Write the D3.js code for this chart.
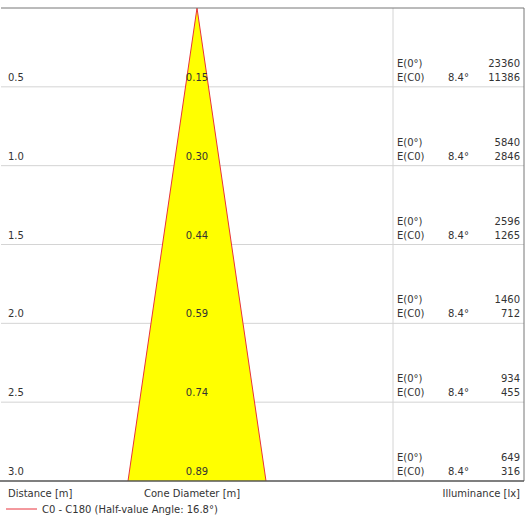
<!DOCTYPE html>
<meta charset="utf-8">
<script src="https://d3js.org/d3.v7.min.js"></script>
<style>
body { margin: 0; background: #fff; }
text { font-family: "DejaVu Sans", sans-serif; font-size: 10px; fill: #333; }
</style>
<div id="chart"></div>
<script>
  // Data
  var distances = [0.5, 1.0, 1.5, 2.0, 2.5, 3.0];
  var diameters = [0.15, 0.30, 0.44, 0.59, 0.74, 0.89];
  var eCenter = [23360, 5840, 2596, 1460, 934, 649];
  var eC0 = [11386, 2846, 1265, 712, 455, 316];
  var halfAngle = "8.4°";

  var W = 526, H = 526;
  var mLeft = 1, mRight = 524, mTop = 8, mBottom = 481, split = 393;

  var svg = d3.select("#chart").append("svg")
              .attr("width", W).attr("height", H);

  // Scales
  var y = d3.scaleLinear().domain([0, 3]).range([mTop, mBottom]);
  var x = d3.scaleLinear().domain([-0.445, 0.445]).range([128, 266]);

  // Gridlines
  svg.selectAll(".grid")
     .data(distances.slice(0, -1))
     .enter().append("line")
     .attr("x1", mLeft).attr("x2", mRight)
     .attr("y1", function (d) { return y(d); })
     .attr("y2", function (d) { return y(d); })
     .attr("stroke", "#d4d4d4");

  svg.append("line")
     .attr("x1", split).attr("x2", split)
     .attr("y1", mTop).attr("y2", mBottom)
     .attr("stroke", "#d4d4d4");

  // Cone
  var last = distances.length - 1;
  var r = diameters[last] / 2;
  svg.append("path")
     .attr("d", "M" + x(0) + "," + y(0) +
                "L" + x(-r) + "," + y(distances[last]) +
                "L" + x(r) + "," + y(distances[last]) + "Z")
     .attr("fill", "#ffff00");
  [-r, r].forEach(function (v) {
    svg.append("line")
       .attr("x1", x(0)).attr("y1", y(0))
       .attr("x2", x(v)).attr("y2", y(distances[last]))
       .attr("stroke", "#e8323c").attr("stroke-width", 1);
  });

  // Frame
  svg.append("path")
     .attr("d", "M" + mLeft + "," + mTop + "H" + mRight + "V" + mBottom)
     .attr("fill", "none").attr("stroke", "#777");
  svg.append("line")
     .attr("x1", 0).attr("x2", mRight).attr("y1", mBottom).attr("y2", mBottom)
     .attr("stroke", "#555").attr("stroke-width", 1.5);

  // Row labels
  var rows = svg.selectAll(".row").data(distances).enter().append("g");
  rows.append("text").attr("x", 8)
      .attr("y", function (d) { return y(d) - 6; })
      .text(function (d) { return d.toFixed(1); });
  rows.append("text").attr("x", x(0)).attr("text-anchor", "middle")
      .attr("y", function (d) { return y(d) - 6; })
      .text(function (d, i) { return diameters[i].toFixed(2); });
  rows.append("text").attr("x", 397)
      .attr("y", function (d) { return y(d) - 20; })
      .text("E(0°)");
  rows.append("text").attr("x", 397)
      .attr("y", function (d) { return y(d) - 6; })
      .text("E(C0)");
  rows.append("text").attr("x", 448)
      .attr("y", function (d) { return y(d) - 6; })
      .text(halfAngle);
  rows.append("text").attr("x", 520).attr("text-anchor", "end")
      .attr("y", function (d) { return y(d) - 20; })
      .text(function (d, i) { return eCenter[i]; });
  rows.append("text").attr("x", 520).attr("text-anchor", "end")
      .attr("y", function (d) { return y(d) - 6; })
      .text(function (d, i) { return eC0[i]; });

  // Axis titles
  svg.append("text").attr("x", 8).attr("y", 497).text("Distance [m]");
  svg.append("text").attr("x", 144).attr("y", 497).text("Cone Diameter [m]");
  svg.append("text").attr("x", 520).attr("y", 497).attr("text-anchor", "end").text("Illuminance [lx]");

  // Legend
  svg.append("line").attr("x1", 6).attr("x2", 37).attr("y1", 509).attr("y2", 509)
     .attr("stroke", "#e8323c");
  svg.append("text").attr("x", 42).attr("y", 513).text("C0 - C180 (Half-value Angle: 16.8°)");
</script>
